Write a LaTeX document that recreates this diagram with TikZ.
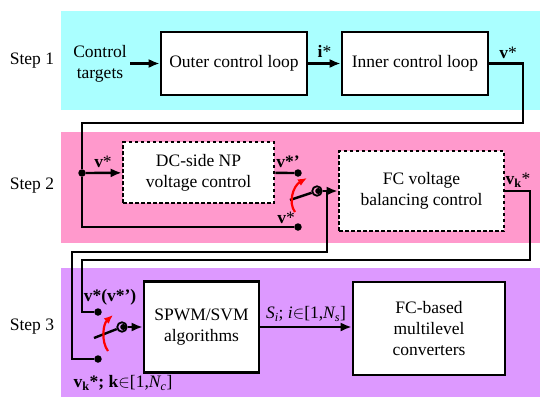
\documentclass[tikz,border=0pt]{standalone}
\usepackage{fontspec}
\setmainfont{Liberation Serif}
\usetikzlibrary{arrows.meta}
\definecolor{stepone}{RGB}{170,255,255}
\definecolor{steptwo}{RGB}{255,153,204}
\definecolor{stepthree}{RGB}{221,153,255}
\begin{document}
\begin{tikzpicture}[x=1pt,y=-1pt,
    font=\fontsize{17.5}{21}\selectfont,
    box/.style={draw,line width=2.6pt,fill=white,align=center,inner sep=0pt},
    dbox/.style={box,dash pattern=on 3.5pt off 2.5pt},
    wire/.style={line width=2.4pt},
    arr/.style={wire,-{Latex[length=11pt,width=9pt]}},
    pin/.style={circle,fill=black,inner sep=0pt,minimum size=7.5pt},
    hub/.style={circle,draw,line width=1.8pt,inner sep=0pt,minimum size=9.5pt},
    turn/.style={red,line width=2.2pt,-{Latex[length=9pt,width=7.5pt]}}]
    \useasboundingbox (0,0) rectangle (550,405);
    % the three steps
    \fill[stepone] (61,11) rectangle (540,110);
    \fill[steptwo] (61,132) rectangle (540,243);
    \fill[stepthree] (61,268) rectangle (540,397);
    \node (s1) at (32,61) {Step 1};
    \node (s2) at (32,186) {Step 2};
    \node (s3) at (32,327) {Step 3};

    % step 1
    \node[align=center] (tgt) at (100,63.5) {Control\\targets};
    \node[box,minimum width=146pt,minimum height=63pt] (outer) at (234,63.5) {Outer control loop};
    \node[box,minimum width=146pt,minimum height=63pt] (inner) at (415,63.5) {Inner control loop};
    \draw[arr] (tgt) -- (outer);
    \draw[arr] (outer) -- (inner) node[midway,above=1pt] {\textbf{i}*};
    \node (vout) at (508,53) {\textbf{v}*};
    \coordinate (c1) at (523,123);
    \coordinate (c2) at (82,123);

    % step 2
    \node[pin] (jn) at (82,173) {};
    \node[dbox,minimum width=151pt,minimum height=61pt] (np) at (198.5,172.5) {DC-side NP\\voltage control};
    \node[dbox,minimum width=165pt,minimum height=80pt] (fc) at (421.5,191) {FC voltage\\balancing control};
    \node[pin] (ta) at (298,173) {};
    \node[pin] (tb) at (298,227) {};
    \node[hub] (pa) at (317,191) {};
    \fill ([xshift=1.2pt]pa.center) circle (3);
    \coordinate (ba) at (290,200);
    \coordinate (tap2) at (327,191);
    \draw[wire] (inner.east) -| (c1) -- (c2) -- (jn);
    \draw[arr] (jn) -- (np);
    \draw[wire] (np) -- (ta);
    \draw[wire] (jn) |- (tb);
    \draw[wire] (ba) -- (pa);
    \draw[arr] (pa) -- (fc);
    \coordinate (ra1) at (295,212);
    \coordinate (ra2) at (307,178);
    \draw[turn] (ra1) .. controls (288,203) and (293,186) .. (ra2);
    \node (l1) at (103,162) {\textbf{v}*};
    \node (l2) at (288,162) {\textbf{v*'}};
    \node (l3) at (286,218) {\textbf{v}*};
    \node (vk) at (518,180) {\textbf{v\textsubscript{k}}*};

    % step 3
    \node[pin] (tup) at (98,312) {};
    \node[pin] (tlo) at (98,359) {};
    \node[hub] (pb) at (122,327) {};
    \fill ([xshift=1.2pt]pb.center) circle (3);
    \coordinate (bb) at (94,338);
    \node[box,minimum width=115pt,minimum height=91pt] (spwm) at (201.5,327) {SPWM/SVM\\algorithms};
    \node[box,minimum width=152pt,minimum height=93pt] (fcml) at (429,328.5) {FC-based\\multilevel\\converters};
    \coordinate (e1) at (72,252);
    \coordinate (f1) at (530,260);
    \coordinate (f2) at (82,260);
    \draw[wire] (tap2) |- (e1) |- (tlo);
    \draw[wire] (fc.east) -| (f1) -- (f2) |- (tup);
    \draw[wire] (bb) -- (pb);
    \draw[arr] (pb) -- (spwm);
    \draw[arr] (spwm.east) -- (spwm.east -| fcml.west)
        node[midway,above=1pt] {\textit{S\textsubscript{i}}; \textit{i}$\in$[1,\textit{N\textsubscript{s}}]};
    \coordinate (rb1) at (108,351);
    \coordinate (rb2) at (113,315);
    \draw[turn] (rb1) .. controls (101,342) and (103,324) .. (rb2);
    \node (l4) at (110,297) {\textbf{v*(v*')}};
    \node (l5) at (123,383) {\textbf{v\textsubscript{k}*; k}$\in$[1,\textit{N\textsubscript{c}}]};
\end{tikzpicture}
\end{document}
